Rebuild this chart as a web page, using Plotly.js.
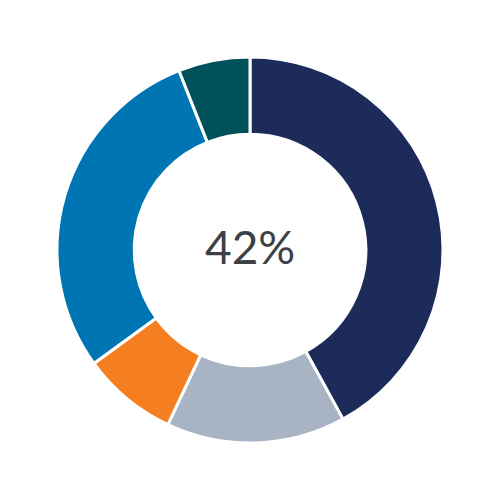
<!DOCTYPE html>
<html>
<head>
<meta charset="utf-8">
<script src="https://cdn.plot.ly/plotly-3.0.1.min.js"></script>
<style>
  html, body { margin: 0; padding: 0; background: #fff; }
  #chart { width: 500px; height: 500px; }
</style>
</head>
<body>
<div id="chart"></div>
<script>
// Parts du donut, dans le sens horaire depuis midi
const segments = ['A', 'B', 'C', 'D', 'E'];
const shares = [42, 15, 8, 29, 6];
const segmentColors = ['#1c2b5a', '#a8b4c3', '#f47e20', '#0075b4', '#00515a'];
const centerLabel = '42%';

const trace = {
  type: 'pie',
  labels: segments,
  values: shares,
  hole: 0.6,
  sort: false,
  direction: 'clockwise',
  rotation: 0,
  textinfo: 'none',
  hoverinfo: 'none',
  marker: {
    colors: segmentColors,
    line: { color: '#ffffff', width: 3 }
  }
};

const layout = {
  width: 500,
  height: 500,
  showlegend: false,
  paper_bgcolor: '#ffffff',
  margin: { t: 57, r: 57, b: 57, l: 57 },
  annotations: [{
    text: centerLabel,
    x: 0.5, y: 0.5,
    xref: 'paper', yref: 'paper',
    yshift: 4,
    showarrow: false,
    font: { family: 'Lato, "Open Sans", sans-serif', size: 46, color: '#3d4045' }
  }]
};

Plotly.newPlot('chart', [trace], layout, { displayModeBar: false, staticPlot: true });
</script>
</body>
</html>
